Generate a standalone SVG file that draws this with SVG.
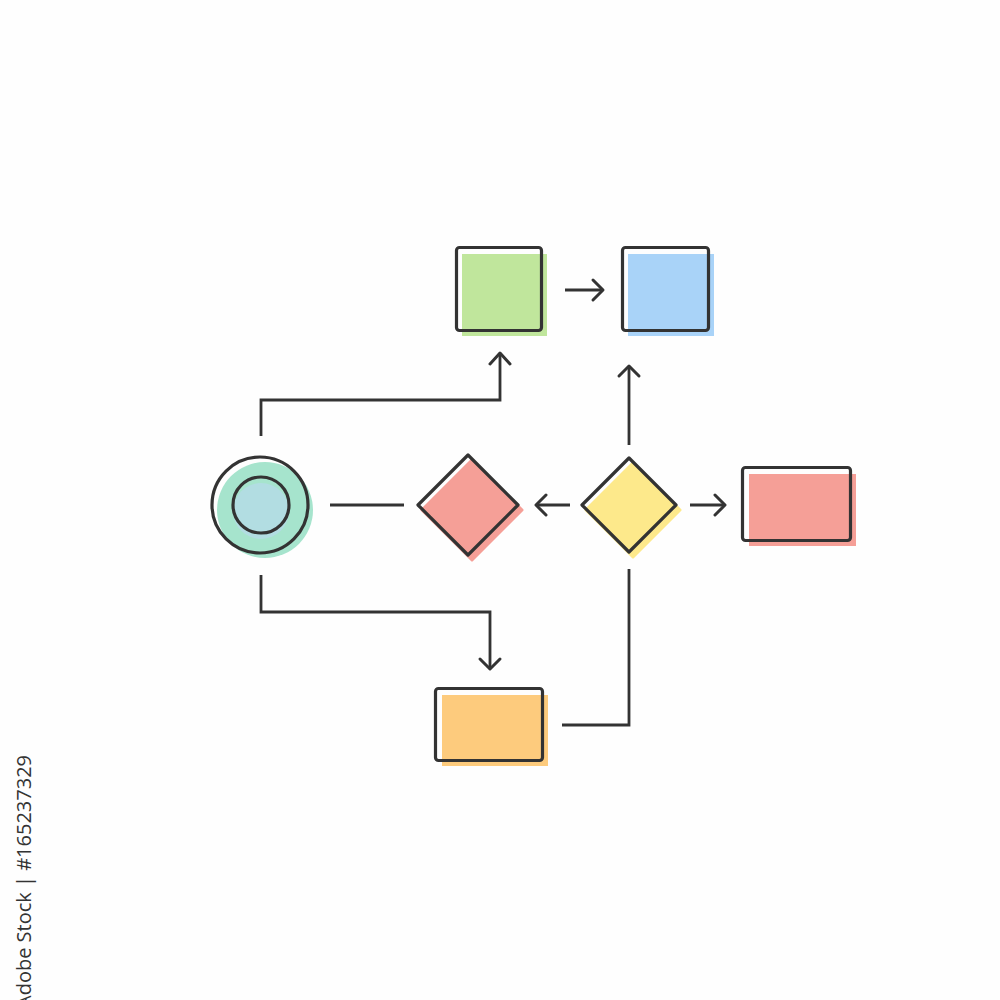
<svg xmlns="http://www.w3.org/2000/svg" width="1000" height="1000" viewBox="0 0 1000 1000">
<style>
.o{fill:none;stroke:#333;stroke-width:3.2;stroke-linejoin:round}
.c{fill:none;stroke:#333;stroke-width:2.8;stroke-linecap:butt;stroke-linejoin:miter}
.h{fill:none;stroke:#333;stroke-width:3;stroke-linecap:round;stroke-linejoin:round}
.wm{font-family:"Open Sans","Noto Sans",sans-serif;font-size:20px;fill:#333}
</style>
<rect width="1000" height="1000" fill="#fefefe"/>
<g id="connectors">
<polyline class="c" points="261,436 261,400 500,400 500,353"/>
<polyline class="h" points="490,364 500,353 510,364"/>
<line class="c" x1="565" y1="290" x2="603" y2="290"/>
<polyline class="h" points="593,280 603,290 593,300"/>
<line class="c" x1="629" y1="445" x2="629" y2="366"/>
<polyline class="h" points="619,376 629,366 639,376"/>
<line class="c" x1="330" y1="505" x2="404" y2="505"/>
<line class="c" x1="570" y1="505" x2="536" y2="505"/>
<polyline class="h" points="546,495 536,505 546,515"/>
<line class="c" x1="690" y1="505" x2="725" y2="505"/>
<polyline class="h" points="715,495 725,505 715,515"/>
<polyline class="c" points="261,575 261,612 490,612 490,669"/>
<polyline class="h" points="480,659 490,669 500,659"/>
<polyline class="c" points="629,569 629,725 562,725"/>
</g>
<g id="green-box">
<rect x="462" y="254" width="85" height="82" fill="#c0e69c"/>
<rect class="o" x="456.5" y="247.5" width="85" height="83" rx="3"/>
</g>
<g id="blue-box">
<rect x="628" y="254" width="86" height="82" fill="#a9d3f8"/>
<rect class="o" x="622.5" y="247.5" width="86" height="83" rx="3"/>
</g>
<g id="start-circle">
<circle cx="265" cy="510" r="48" fill="#a6e4cd"/>
<circle cx="261" cy="511" r="28" fill="#b2dde2"/>
<circle class="o" cx="260" cy="505" r="48"/>
<circle class="o" cx="261" cy="505" r="28"/>
</g>
<g id="red-diamond">
<path d="M472,460 L522,510 L472,560 L422,510 Z" fill="#f59f97" stroke="#f59f97" stroke-width="3" stroke-linejoin="round"/>
<path class="o" d="M468,455 L518,505 L468,555 L418,505 Z" stroke-width="3.4"/>
</g>
<g id="yellow-diamond">
<path d="M633,463 L680,510 L633,557 L586,510 Z" fill="#fde98b" stroke="#fde98b" stroke-width="3" stroke-linejoin="round"/>
<path class="o" d="M629,458 L676,505 L629,552 L582,505 Z" stroke-width="3.4"/>
</g>
<g id="red-box">
<rect x="749" y="474" width="107" height="72" fill="#f59f97"/>
<rect class="o" x="742.5" y="467.5" width="108" height="73" rx="3"/>
</g>
<g id="orange-box">
<rect x="442" y="695" width="106" height="71" fill="#fdcb7d"/>
<rect class="o" x="435.5" y="688.5" width="107" height="72" rx="3"/>
</g>
<text class="wm" transform="translate(31,1008) rotate(-90)" x="0" y="0">Adobe Stock | #165237329</text>
</svg>
